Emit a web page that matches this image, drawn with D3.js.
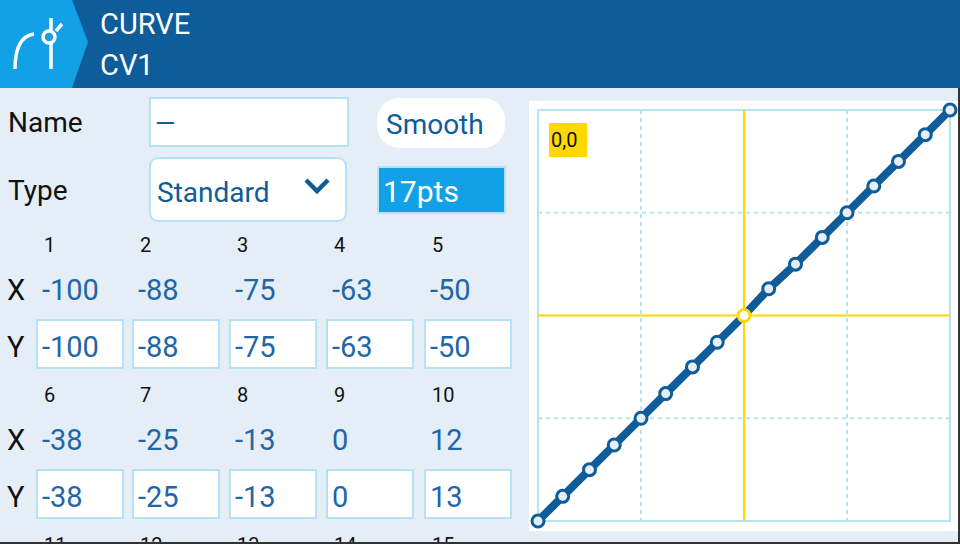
<!DOCTYPE html>
<html>
<head>
<meta charset="utf-8">
<script src="https://cdn.jsdelivr.net/npm/d3@7"></script>
<style>
  body { margin: 0; background: #e5eef7; }
  svg { display: block; font-family: Roboto, "Noto Sans", sans-serif; }
</style>
</head>
<body>
<div id="chart"></div>
<script>
// curve points
const xValues = [-100, -88, -75, -63, -50, -38, -25, -13, 0, 12, 25, 38, 50, 63, 75, 88, 100];
const yValues = [-100, -88, -75, -63, -50, -38, -25, -13, 0, 13, 25, 38, 50, 63, 75, 88, 100];
const gridTicks = [-100, -50, 0, 50, 100];
const pointLabels = d3.range(1, 18).map(String);

const w = 960, h = 544;
const dark = "#0e5c9a", light = "#12a0e6", pale = "#b5e2f7";

const svg = d3.select("#chart").append("svg").attr("width", w).attr("height", h);

svg.append("rect").attr("width", w).attr("height", h).attr("fill", "#e5eef7");

// header
svg.append("rect").attr("width", w).attr("height", 88).attr("fill", dark);
svg.append("polygon").attr("points", "0,0 72,0 88,42 72,88 0,88").attr("fill", light);
const icon = svg.append("g").attr("stroke", "white").attr("stroke-width", 3.5).attr("fill", "none");
icon.append("path").attr("d", "M15,69 C15,50 20,36 34,34");
icon.append("line").attr("x1", 51).attr("y1", 18).attr("x2", 51).attr("y2", 69);
icon.append("circle").attr("cx", 49).attr("cy", 37).attr("r", 6).attr("fill", light);
icon.append("line").attr("x1", 56).attr("y1", 31).attr("x2", 62).attr("y2", 24);
svg.append("text").attr("x", 100).attr("y", 34).attr("fill", "white").style("font-size", "29px").text("CURVE");
svg.append("text").attr("x", 100).attr("y", 75).attr("fill", "white").style("font-size", "29px").text("CV1");

// form rows
function label(x, y, t, size, color) {
  svg.append("text").attr("x", x).attr("y", y).attr("fill", color || "#111")
    .style("font-size", size + "px").text(t);
}
function box(x, y, bw, bh, r, fill) {
  svg.append("rect").attr("x", x).attr("y", y).attr("width", bw).attr("height", bh)
    .attr("rx", r).attr("fill", fill || "white").attr("stroke", pale).attr("stroke-width", 2);
}
label(8, 132, "Name", 28);
box(150, 98, 198, 48, 0);
label(155, 132, "—", 26, dark);
svg.append("rect").attr("x", 377).attr("y", 98).attr("width", 128).attr("height", 50).attr("rx", 22).attr("fill", "white");
label(386, 134, "Smooth", 28, dark);

label(8, 200, "Type", 28);
box(150, 158, 196, 63, 8);
label(157, 202, "Standard", 28, dark);
svg.append("path").attr("d", "M306,180 L317,191 L328,180").attr("fill", "none")
  .attr("stroke", dark).attr("stroke-width", 4.5);
box(378, 167, 127, 46, 0, light);
label(383, 202, "17pts", 30, "white");

// point table
const colX = [37, 133, 230, 327, 425];
const blocks = d3.range(3);
blocks.forEach(b => {
  const y0 = 252 + b * 150;
  for (let c = 0; c < 5; c++) {
    const i = b * 5 + c;
    if (i >= 17) break;
    label(colX[c] + 7, y0, pointLabels[i], 20);
    if (b < 2) {
      label(colX[c] + 5, y0 + 48, xValues[i], 29, "#1f66a8");
      box(colX[c], y0 + 68, 86, 48, 0);
      label(colX[c] + 5, y0 + 105, yValues[i], 29, "#1f66a8");
    }
  }
  if (b < 2) {
    label(7, y0 + 48, "X", 29);
    label(7, y0 + 105, "Y", 29);
  }
});

// curve plot
svg.append("rect").attr("x", 529).attr("y", 101).attr("width", 431).attr("height", 430).attr("fill", "white");
const xScale = d3.scaleLinear().domain([-100, 100]).range([538, 950]);
const yScale = d3.scaleLinear().domain([-100, 100]).range([521, 110]);

const grid = svg.append("g");
gridTicks.slice(1, -1).forEach(t => {
  if (t === 0) return;
  grid.append("line").attr("x1", xScale(t)).attr("x2", xScale(t)).attr("y1", yScale(100)).attr("y2", yScale(-100))
    .attr("stroke", pale).attr("stroke-width", 2).attr("stroke-dasharray", "4,4");
  grid.append("line").attr("y1", yScale(t)).attr("y2", yScale(t)).attr("x1", xScale(-100)).attr("x2", xScale(100))
    .attr("stroke", pale).attr("stroke-width", 2).attr("stroke-dasharray", "4,4");
});
grid.append("rect").attr("x", xScale(-100)).attr("y", yScale(100))
  .attr("width", xScale(100) - xScale(-100)).attr("height", yScale(-100) - yScale(100))
  .attr("fill", "none").attr("stroke", pale).attr("stroke-width", 2);
grid.append("line").attr("x1", xScale(0)).attr("x2", xScale(0)).attr("y1", yScale(100)).attr("y2", yScale(-100))
  .attr("stroke", "#ffd800").attr("stroke-width", 2);
grid.append("line").attr("y1", yScale(0)).attr("y2", yScale(0)).attr("x1", xScale(-100)).attr("x2", xScale(100))
  .attr("stroke", "#ffd800").attr("stroke-width", 2);

svg.append("rect").attr("x", 549).attr("y", 123).attr("width", 38).attr("height", 34).attr("fill", "#ffd800");
label(551, 147, "0,0", 20);

const pts = xValues.map((x, i) => [x, yValues[i]]);
svg.append("path").datum(pts)
  .attr("d", d3.line().x(d => xScale(d[0])).y(d => yScale(d[1])))
  .attr("fill", "none").attr("stroke", dark).attr("stroke-width", 8);
svg.selectAll("circle.pt").data(pts).enter().append("circle").attr("class", "pt")
  .attr("cx", d => xScale(d[0])).attr("cy", d => yScale(d[1])).attr("r", 6)
  .attr("fill", d => d[0] === 0 ? "white" : "#e5eef7")
  .attr("stroke", d => d[0] === 0 ? "#ffd800" : dark).attr("stroke-width", 3);

// frame edges
svg.append("line").attr("x1", 0).attr("x2", w).attr("y1", 543).attr("y2", 543).attr("stroke", "#333").attr("stroke-width", 2);
svg.append("line").attr("x1", 959).attr("x2", 959).attr("y1", 88).attr("y2", h).attr("stroke", "#333").attr("stroke-width", 2);
</script>
</body>
</html>
